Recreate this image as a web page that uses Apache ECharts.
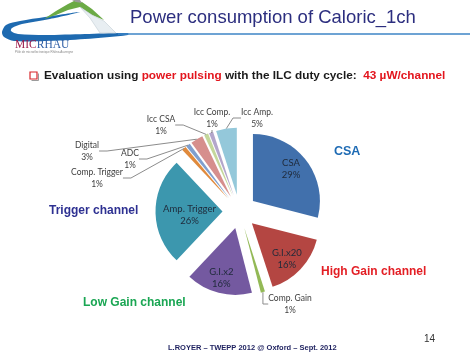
<!DOCTYPE html>
<html><head><meta charset="utf-8">
<script src="https://cdn.jsdelivr.net/npm/echarts@6/dist/echarts.min.js"></script>
<style>html,body{margin:0;padding:0;background:#fff}#c{width:474px;height:355px}</style>
</head><body><div id="c"></div>
<script>
// ---- data ----
const categories = ['CSA', 'G.I.x20', 'Comp. Gain', 'G.I.x2', 'Amp. Trigger', 'Comp. Trigger', 'ADC', 'Digital', 'Icc CSA', 'Icc Comp.', 'Icc Amp.'];
const values = [29, 16, 1, 16, 26, 1, 1, 3, 1, 1, 5];
const insideLabel = [true, true, false, true, true, false, false, false, false, false, false];

// ---- styles / layout ----
const sliceColors = ['#4170AC', '#B44642', '#93B956', '#7459A0', '#3C97AE', '#E08A3C', '#7F9FCE', '#D68F8D', '#C4D79B', '#B3A6CB', '#94C8DA'];
const labelSpots = [null, null, [290, 304], null, null, [97, 178], [130, 159], [87, 151], [161, 125], [212, 118], [257, 118]];
const labelNudge = [[-3, 0], [-3, 0], null, [-1, 0], [19, 3], null, null, null, null, null, null];

const chart = echarts.init(document.getElementById('c'), null, { renderer: 'canvas' });

const F = 'Liberation Sans, Arial, sans-serif';
const CENTER = [239.5, 211.5];

// exploded slices
const sliceData = categories.map((name, i) => ({
  name: name, value: values[i], selected: true,
  itemStyle: { color: sliceColors[i] }
}));

// label carrier (transparent ring reaching the exploded outer arcs)
const labelData = categories.map((name, i) => ({
  name: name, value: values[i],
  label: insideLabel[i]
    ? { position: 'inside', color: '#1f2a3a', fontSize: 9.5 }
    : { position: 'outside', color: '#404040', fontSize: 8.5 },
  labelLine: { show: !insideLabel[i] }
}));

chart.setOption({
  animation: false,
  backgroundColor: '#ffffff',
  series: [{
    type: 'pie',
    center: CENTER,
    radius: 67,
    startAngle: 90,
    clockwise: true,
    selectedMode: 'multiple',
    selectedOffset: 17,
    silent: true,
    z: 1,
    itemStyle: { borderWidth: 0 },
    select: { itemStyle: { borderWidth: 0 } },
    label: { show: false },
    labelLine: { show: false },
    data: sliceData
  }, {
    type: 'pie',
    center: CENTER,
    radius: [48, 84],
    startAngle: 90,
    clockwise: true,
    silent: true,
    z: 3,
    avoidLabelOverlap: false,
    itemStyle: { color: 'rgba(255,255,255,0)', borderWidth: 0 },
    label: {
      show: true,
      formatter: '{b}\n{d}%',
      fontFamily: 'Lato, sans-serif',
      lineHeight: 12,
      align: 'center',
      overflow: 'none'
    },
    labelLine: {
      show: true,
      length: 8,
      length2: 8,
      lineStyle: { color: '#8c8c8c', width: 1 }
    },
    labelLayout: function (p) {
      const s = labelSpots[p.dataIndex];
      if (!s) {
        const n = labelNudge[p.dataIndex];
        return n ? { dx: n[0], dy: n[1] } : {};
      }
      return { x: s[0], y: s[1], align: 'center', verticalAlign: 'middle', hideOverlap: false };
    },
    data: labelData
  }],
  graphic: [
    // logo swoosh
    { type: 'polygon', shape: { smooth: 0.3, points: [[2,32],[6,25],[20,21],[45,17],[80,12],[50,19],[22,24],[12,28],[11,31],[18,34],[45,35],[85,34],[128,33],[128,35],[85,39],[45,41],[14,41],[4,37]] }, style: { fill: '#1E6AB0' } },
    { type: 'polygon', shape: { points: [[44,19],[56,11],[68,4],[74,1],[82,2],[92,9],[104,20],[92,15],[80,7],[68,10],[56,15]] }, style: { fill: '#6BAA45' } },
    { type: 'polygon', shape: { points: [[72,0],[80,0],[82,3],[76,2]] }, style: { fill: '#9a9a9a' } },
    { type: 'polygon', shape: { points: [[80,7],[92,15],[104,21],[116,33],[100,33],[90,18]] }, style: { fill: '#e8eef2', stroke: '#b8c4cc', lineWidth: 0.5 } },
    { type: 'text', left: 15, top: 39, style: { text: '{a|MIC}{b|RHAU}', rich: { a: { fill: '#9B1B4B', fontFamily: 'Liberation Serif, serif', fontSize: 11.5 }, b: { fill: '#2F5FA6', fontFamily: 'Liberation Serif, serif', fontSize: 11.5 } } } },
    { type: 'text', left: 15, top: 51, style: { text: 'Pôle de microélectronique Rhône-Auvergne', fill: '#888', fontSize: 3, fontFamily: F } },
    // title + rule
    { type: 'text', left: 130, top: 8, style: { text: 'Power consumption of Caloric_1ch', fill: '#2C2E7F', fontSize: 18.5, fontFamily: F } },
    { type: 'line', shape: { x1: 118, y1: 34, x2: 470, y2: 34 }, style: { stroke: '#3D85C6', lineWidth: 1.5 } },
    // bullet
    { type: 'rect', shape: { x: 30, y: 72, width: 7, height: 7 }, style: { fill: '#fff', stroke: '#D7262B', lineWidth: 1.2 } },
    { type: 'line', shape: { x1: 31.5, y1: 80.5, x2: 38.5, y2: 80.5 }, style: { stroke: '#9b9b9b', lineWidth: 1 } },
    { type: 'line', shape: { x1: 38.5, y1: 73.5, x2: 38.5, y2: 80.5 }, style: { stroke: '#9b9b9b', lineWidth: 1 } },
    { type: 'text', left: 44, top: 70, style: { text: '{k|Evaluation using }{r|power pulsing}{k| with the ILC duty cycle:  }{r|43 µW/channel}', rich: { k: { fill: '#1a1a1a', fontSize: 11.8, fontWeight: 'bold', fontFamily: F }, r: { fill: '#E3151D', fontSize: 11.8, fontWeight: 'bold', fontFamily: F } } } },
    // annotations
    { type: 'text', left: 334, top: 145, style: { text: 'CSA', fill: '#1E6BB4', fontSize: 12.5, fontWeight: 'bold', fontFamily: F } },
    { type: 'text', left: 49, top: 205, style: { text: 'Trigger channel', fill: '#2E3192', fontSize: 12, fontWeight: 'bold', fontFamily: F } },
    { type: 'text', left: 321, top: 266, style: { text: 'High Gain channel', fill: '#E31E24', fontSize: 12, fontWeight: 'bold', fontFamily: F } },
    { type: 'text', left: 83, top: 297, style: { text: 'Low Gain channel', fill: '#1AA653', fontSize: 12, fontWeight: 'bold', fontFamily: F } },
    // footer
    { type: 'text', left: 424, top: 334, style: { text: '14', fill: '#333', fontSize: 10, fontFamily: F } },
    { type: 'text', left: 168, top: 344, style: { text: 'L.ROYER – TWEPP 2012 @ Oxford – Sept. 2012', fill: '#1C1F5E', fontSize: 7.5, fontWeight: 'bold', fontFamily: F } }
  ]
});
</script></body></html>
